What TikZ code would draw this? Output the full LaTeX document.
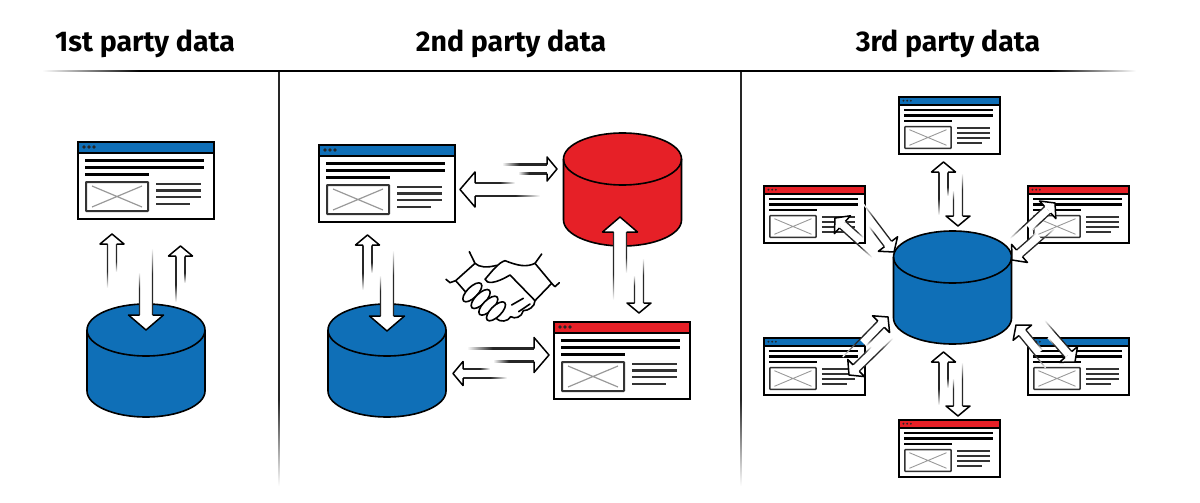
\documentclass[tikz,border=0pt]{standalone}
\usepackage{fontspec}
\setmainfont{Fira Sans}
\definecolor{dataBlue}{HTML}{0F6FB7}
\definecolor{dataRed}{HTML}{E62027}
\pgfdeclarehorizontalshading{flowfade}{100bp}{color(0bp)=(white); color(25bp)=(white); color(44bp)=(black!85); color(100bp)=(black!85)}
\tikzset{
    title/.style={font=\bfseries\fontsize{28.5}{30}\selectfont, inner sep=0pt},
    drumbox/.style={inner sep=0pt, outer sep=0pt, minimum width=118pt, minimum height=113pt},
    winbox/.style={draw=black, inner sep=0pt, outer sep=0pt, anchor=north west}
}
% browser window: name, left, top, scale, bar colour
\newcommand{\browser}[5]{%
    \begin{scope}[shift={(#2,#3)}, scale=#4]
        \fill[#5] (0,0) rectangle (136,10);
        \fill[black] (0,10) rectangle (136,11.5);
        \foreach \dx in {6,11,16} \fill[black!85] (\dx,5) circle (#4*1.9pt);
        \foreach \ly/\lx in {18/126, 25/126, 32/71}
            \draw[line width=#4*3pt] (7,\ly) -- (\lx,\ly);
        \foreach \ly/\lx in {42/123, 48.5/123, 55/123, 62/112}
            \draw[line width=#4*2.1pt, black!80] (78,\ly) -- (\lx,\ly);
        \draw[line width=#4*2pt, black!80, rounded corners=0.5pt] (8,40) rectangle (70,69);
        \draw[line width=#4*1.2pt, black!40] (14,44) -- (64,65) (14,65) -- (64,44);
        \node[winbox, line width=#4*2.2pt, minimum width=#4*136pt, minimum height=#4*77pt] (#1) at (0,0) {};
    \end{scope}
}
% database drum: name, centre x, centre y of the lid, colour
\newcommand{\drum}[4]{%
    \begin{scope}[shift={(#2,#3)}]
        \node[drumbox] (#1) at (0,30.5) {};
        \draw[line width=1.6pt, fill=#4] (-59,0) -- (-59,61) arc (180:360:59pt and 26pt) -- (59,0) arc (0:180:59pt and 26pt) -- cycle;
        \draw[line width=1.6pt] (-59,0) arc (180:360:59pt and 26pt);
    \end{scope}
}
% hollow arrow: name, tail, tip, short side, head length, head half width, shaft half width
\newcommand{\flow}[7]{%
    \coordinate (#1t) at (#2);
    \coordinate (#1h) at (#3);
    \pgfpointdiff{\pgfpointanchor{#1t}{center}}{\pgfpointanchor{#1h}{center}}
    \pgfgetlastxy{\flowx}{\flowy}
    \pgfmathsetmacro{\flowang}{atan2(\flowy,\flowx)}
    \pgfmathsetmacro{\flowlen}{veclen(\flowx,\flowy)}
    \begin{scope}[transform canvas={shift={(#1h)}, rotate=\flowang}]
        \fill[white] (-#4,-#7) rectangle (-#5,#7);
        \shade[shading=flowfade] (-\flowlen,-#7-0.65) rectangle (-#5,-#7+0.65);
        \shade[shading=flowfade] (-#4,#7-0.65) rectangle (-#5,#7+0.65);
        \fill[white] (0,0) -- (-#5,#6) -- (-#5,-#6) -- cycle;
        \draw[line width=1.5pt, line join=round] (-#5,-#7) -- (-#5,-#6) -- (0,0) -- (-#5,#6) -- (-#5,#7);
    \end{scope}
}
\newcommand{\flowsmall}[4]{\flow{#1}{#2}{#3}{#4}{10}{12}{4.5}}
\newcommand{\flowbig}[4]{\flow{#1}{#2}{#3}{#4}{15}{17.5}{6.5}}

\begin{document}
\begin{tikzpicture}[x=1pt, y=-1pt]
    \useasboundingbox (0,0) rectangle (1200,503);

    % Titles
    \node[title] (first) at (145,44) {1st party data};
    \node[title] (second) at (511,44) {2nd party data};
    \node[title] (third) at (948,44) {3rd party data};

    % Panel rules
    \shade[left color=white, right color=black] (42,70.2) rectangle (140,71.8);
    \fill[black] (140,70.2) rectangle (1050,71.8);
    \shade[left color=black, right color=white] (1050,70.2) rectangle (1136,71.8);
    \foreach \rx in {279,741} {
        \fill[black!85] (\rx-0.8,72) rectangle (\rx+0.8,400);
        \shade[top color=black!85, bottom color=white] (\rx-0.8,400) rectangle (\rx+0.8,486);
    }

    % First party
    \browser{wa}{78}{142}{1}{dataBlue}
    \drum{da}{146}{330}{dataBlue}
    \flowsmall{a1}{112,288}{112,234}{38}
    \flowbig{a2}{146,248}{146,330}{58}
    \flowsmall{a3}{180.5,302}{180.5,246}{37}

    % Second party
    \browser{wb}{319}{145}{1}{dataBlue}
    \browser{wc}{554}{322}{1}{dataRed}
    \drum{dc}{622.5}{159}{dataRed}
    \drum{db}{387}{330}{dataBlue}
    \flowsmall{b1}{502,169}{557,169}{39}
    \flowbig{b2}{540,189.5}{460,189.5}{55}
    \flowbig{b3}{620,300}{620,217}{56}
    \flowsmall{b4}{639,258}{639,313}{38}
    \flowsmall{b5}{367.5,290}{367.5,235}{38}
    \flowbig{b6}{387,250}{387,331}{56}
    \flowbig{b7}{467,355}{549,355}{56}
    \flowsmall{b8}{507,373.5}{453,373.5}{37}

    % Handshake
    \begin{scope}[shift={(440,240)}, scale=1/3, line width=1.6pt, line join=round, line cap=round]
        \draw (88,35) -- (105,70) .. controls (118,82) and (140,84) .. (170,76);
        \draw (18,118) -- (30,128) -- (47,122) -- (105,70);
        \draw (47,122) -- (76,155);
        \draw (305,42) -- (285,70) .. controls (260,82) and (235,78) .. (195,62) .. controls (175,68) and (155,95) .. (135,118)
            .. controls (140,132) and (165,132) .. (210,105) -- (285,182);
        \draw (285,70) -- (335,130) -- (285,182);
        \draw (335,130) -- (345,140) -- (358,128);
        \draw (285,182) .. controls (285,200) and (265,212) .. (250,212) .. controls (245,232) and (225,238) .. (212,230)
            .. controls (205,245) and (180,248) .. (168,235);
        \draw (250,175) -- (215,195) (270,192) -- (236,215);
        \foreach \fx/\fy in {97/157, 122/177, 145/197, 168/214}
            \draw[fill=white] (\fx,\fy) ellipse [x radius=37pt, y radius=16pt, rotate=45];
    \end{scope}

    % Third party
    \browser{wd}{899}{97}{0.743}{dataBlue}
    \browser{we}{764}{186}{0.743}{dataRed}
    \browser{wf}{1028}{186}{0.743}{dataRed}
    \browser{wg}{764}{338}{0.743}{dataBlue}
    \browser{wh}{1028}{338}{0.743}{dataBlue}
    \browser{wi}{899}{420}{0.743}{dataRed}
    \drum{dd}{952.5}{257}{dataBlue}
    \flowsmall{c1}{943.5,215}{943.5,162}{34}
    \flowsmall{c2}{958,173}{958,226}{36}
    \flowsmall{c3}{943.5,405}{943.5,352}{36}
    \flowsmall{c4}{958,362}{958,416}{38}
    \flowsmall{c5}{875,254}{835,218}{34}
    \flowsmall{c6}{860,207}{894,252}{36}
    \flowsmall{c7}{1013,242}{1055,203}{36}
    \flowsmall{c8}{1052,225}{1012,260}{36}
    \flowsmall{c9}{846,360}{888,317}{36}
    \flowsmall{c10}{890,335}{849,375}{36}
    \flowsmall{c11}{1049,365}{1016,325}{36}
    \flowsmall{c12}{1041,323}{1075,362}{36}
\end{tikzpicture}
\end{document}
